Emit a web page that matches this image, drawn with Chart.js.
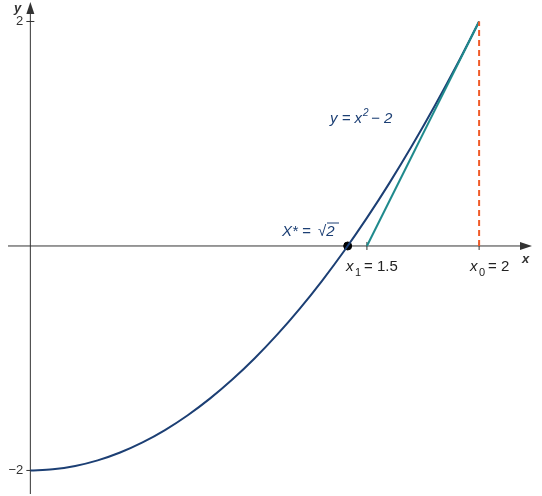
<!DOCTYPE html>
<html><head><meta charset="utf-8">
<script src="https://cdn.jsdelivr.net/npm/chart.js@4"></script>
<style>html,body{margin:0;padding:0;background:#fff}#w{width:542px;height:496px}</style>
</head><body><div id="w"><canvas id="c"></canvas></div>
<script>
const curveX = [0,0.1,0.2,0.3,0.4,0.5,0.6,0.7,0.8,0.9,1.0,1.1,1.2,1.3,1.4,1.5,1.6,1.7,1.8,1.9,2.0];
const curveY = [-2,-1.99,-1.96,-1.91,-1.84,-1.75,-1.64,-1.51,-1.36,-1.19,-1,-0.79,-0.56,-0.31,-0.04,0.25,0.56,0.89,1.24,1.61,2];
const tangentX = [1.5,2];
const tangentY = [0,2];
const rootX = [1.41421];
const rootY = [0];
const yTicks = [2,-2];
const yTickLabels = ['2','\u22122'];

const navy='#1c3f74', teal='#1f8a8c', orange='#f05a28';
const deco = {
  id:'deco',
  beforeDatasetsDraw(ch){
    const c=ch.ctx, x=ch.scales.x, y=ch.scales.y;
    const ox=x.getPixelForValue(0), oy=y.getPixelForValue(0);
    c.save(); c.strokeStyle='#333'; c.fillStyle='#333'; c.lineWidth=1;
    c.beginPath(); c.moveTo(8,oy); c.lineTo(528,oy); c.moveTo(ox,6); c.lineTo(ox,494); c.stroke();
    c.beginPath(); c.moveTo(532,oy); c.lineTo(520,oy-4); c.lineTo(520,oy+4); c.fill();
    c.beginPath(); c.moveTo(ox,2); c.lineTo(ox-4,14); c.lineTo(ox+4,14); c.fill();
    c.font='13px "Liberation Sans", Arial'; c.textAlign='right'; c.textBaseline='middle';
    yTicks.forEach((v,i)=>{const p=y.getPixelForValue(v); c.beginPath(); c.moveTo(ox-4,p); c.lineTo(ox+4,p); c.stroke(); c.fillText(yTickLabels[i],ox-7,p);});
    [1.5,2].forEach(v=>{const p=x.getPixelForValue(v); c.beginPath(); c.moveTo(p,oy-4); c.lineTo(p,oy+4); c.stroke();});
    c.font='bold italic 13px "Liberation Sans", Arial'; c.textAlign='left';
    c.fillText('x',522,oy+13); c.fillText('y',14,8);
    c.fillStyle=navy; c.font='italic 15px "Liberation Sans", Arial'; c.textBaseline='alphabetic';
    c.fillText('y = x',330,123); c.font='italic 10px "Liberation Sans", Arial'; c.fillText('2',363,116);
    c.font='italic 15px "Liberation Sans", Arial'; c.fillText('\u2212 2',371,123);
    c.fillText('X* = ',282,236); c.fillText('\u221A2',318,236);
    c.beginPath(); c.strokeStyle=navy; c.moveTo(327,223); c.lineTo(339,223); c.stroke();
    c.fillStyle='#222';
    c.fillText('x',346,271); c.font='11px "Liberation Sans", Arial'; c.fillText('1',355,276);
    c.font='15px "Liberation Sans", Arial'; c.fillText('= 1.5',364,271);
    c.font='italic 15px "Liberation Sans", Arial'; c.fillText('x',470,271);
    c.font='11px "Liberation Sans", Arial'; c.fillText('0',479,276);
    c.font='15px "Liberation Sans", Arial'; c.fillText('= 2',488,271);
    c.restore();
  }
};
new Chart(document.getElementById('c'),{
  type:'scatter',
  data:{datasets:[
    {data:[{x:2,y:0},{x:2,y:2}],showLine:true,borderColor:orange,borderWidth:2,borderDash:[6,4],pointRadius:0},
    {data:tangentX.map((v,i)=>({x:v,y:tangentY[i]})),showLine:true,borderColor:teal,borderWidth:2,pointRadius:0},
    {data:curveX.map((v,i)=>({x:v,y:curveY[i]})),showLine:true,borderColor:navy,borderWidth:2,pointRadius:0,tension:0.4,cubicInterpolationMode:'monotone'},
    {data:rootX.map((v,i)=>({x:v,y:rootY[i]})),pointRadius:4,backgroundColor:'#000',borderColor:'#000'}
  ]},
  options:{responsive:true,maintainAspectRatio:false,animation:false,layout:{padding:0},
    plugins:{legend:{display:false},tooltip:{enabled:false}},
    scales:{x:{type:'linear',display:false,min:-0.113,max:2.258},y:{type:'linear',display:false,min:-2.183,max:2.147}}},
  plugins:[deco]
});
</script></body></html>
